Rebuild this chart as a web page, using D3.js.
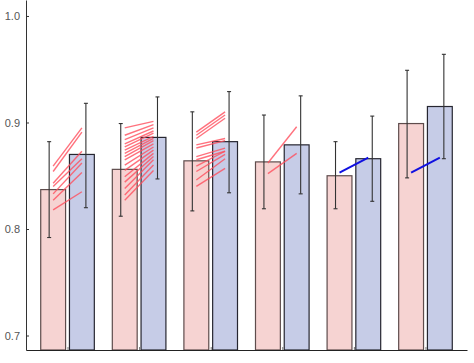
<!DOCTYPE html>
<html>
<head>
<meta charset="utf-8">
<script src="https://cdn.jsdelivr.net/npm/d3@7"></script>
<style>
  body { margin: 0; background: #fff; }
  svg { display: block; font-family: "Liberation Sans", Arial, sans-serif; }
</style>
</head>
<body>
<div id="chart"></div>
<script>
// six conditions, two bars each (pink = before, blue = after)
const groups = ["1", "2", "3", "4", "5", "6"];
const meanA = [0.837, 0.856, 0.864, 0.863, 0.850, 0.899];
const meanB = [0.870, 0.886, 0.882, 0.879, 0.866, 0.915];
const hiA = [0.882, 0.899, 0.910, 0.907, 0.882, 0.949];
const loA = [0.792, 0.812, 0.817, 0.819, 0.819, 0.848];
const hiB = [0.918, 0.924, 0.929, 0.925, 0.906, 0.964];
const loB = [0.820, 0.847, 0.834, 0.833, 0.826, 0.866];
const yTicks = [0.7, 0.8, 0.9, 1.0];

// individual paired lines per group [before, after]
const pairs1 = [[0.859, 0.895], [0.854, 0.891], [0.843, 0.873], [0.840, 0.866], [0.833, 0.862], [0.827, 0.853], [0.818, 0.835]];
const pairs2 = [[0.895, 0.901], [0.888, 0.898], [0.884, 0.895], [0.880, 0.892], [0.877, 0.890], [0.874, 0.887],
  [0.871, 0.885], [0.868, 0.883], [0.865, 0.880], [0.860, 0.877], [0.855, 0.874], [0.849, 0.871],
  [0.844, 0.868], [0.838, 0.865], [0.832, 0.860], [0.827, 0.855]];
const pairs3 = [[0.891, 0.910], [0.888, 0.907], [0.885, 0.904], [0.879, 0.885], [0.876, 0.883], [0.868, 0.876],
  [0.865, 0.873], [0.859, 0.873], [0.854, 0.870], [0.846, 0.866], [0.840, 0.857]];
const pairs4 = [[0.862, 0.896], [0.852, 0.871]];
const pairs5 = [[0.853, 0.867]];
const pairs6 = [[0.853, 0.867]];
const allPairs = [pairs1, pairs2, pairs3, pairs4, pairs5, pairs6];
const pairColor = ["#ff4d5c", "#ff4d5c", "#ff4d5c", "#ff4d5c", "#1010e0", "#1010e0"];

const W = 474, H = 363;
const margin = {top: 0, right: 7, bottom: 13, left: 26};

const svg = d3.select("#chart").append("svg")
  .attr("width", W).attr("height", H);

const x = d3.scalePoint()
  .domain(groups)
  .range([margin.left, W - margin.right])
  .padding(0.58);

const sub = d3.scaleBand()
  .domain(["A", "B"])
  .range([-26.8, 26.8])
  .paddingInner(0.135);

const y = d3.scaleLinear()
  .domain([0.6864, 1.015])
  .range([H - margin.bottom, margin.top]);

const rows = groups.map((g, i) => ({
  g: g,
  A: {m: meanA[i], hi: hiA[i], lo: loA[i]},
  B: {m: meanB[i], hi: hiB[i], lo: loB[i]},
  pairs: allPairs[i],
  color: pairColor[i]
}));

const bw = sub.bandwidth();

// bars
rows.forEach(function(r) {
  svg.append("rect")
    .attr("x", x(r.g) + sub("A"))
    .attr("y", y(r.A.m))
    .attr("width", bw)
    .attr("height", y.range()[0] - y(r.A.m))
    .attr("fill", "#f6d3d2")
    .attr("stroke", "#5e4c4c")
    .attr("stroke-width", 1.2);
  svg.append("rect")
    .attr("x", x(r.g) + sub("B"))
    .attr("y", y(r.B.m))
    .attr("width", bw)
    .attr("height", y.range()[0] - y(r.B.m))
    .attr("fill", "#c6cce7")
    .attr("stroke", "#262630")
    .attr("stroke-width", 1.2);
});

// paired lines, bar centre to bar centre
rows.forEach(function(r) {
  const xa = x(r.g) + sub("A") + bw / 2;
  const xb = x(r.g) + sub("B") + bw / 2;
  svg.selectAll(null)
    .data(r.pairs)
    .enter()
    .append("line")
    .attr("x1", xa).attr("x2", xb)
    .attr("y1", d => y(d[0]))
    .attr("y2", d => y(d[1]))
    .attr("stroke", r.color)
    .attr("stroke-opacity", r.color === "#1010e0" ? 1 : 0.8)
    .attr("stroke-width", r.color === "#1010e0" ? 2 : 1.4);
});

// error bars, a little outside the bar centres
function whisker(cx, e) {
  const gE = svg.append("g").attr("stroke", "#333").attr("stroke-width", 1.1);
  gE.append("line").attr("x1", cx).attr("x2", cx).attr("y1", y(e.hi)).attr("y2", y(e.lo));
  gE.append("line").attr("x1", cx - 2).attr("x2", cx + 2).attr("y1", y(e.hi)).attr("y2", y(e.hi));
  gE.append("line").attr("x1", cx - 2).attr("x2", cx + 2).attr("y1", y(e.lo)).attr("y2", y(e.lo));
}
rows.forEach(function(r) {
  whisker(x(r.g) + sub("A") + bw / 2 - 4, r.A);
  whisker(x(r.g) + sub("B") + bw / 2 + 4, r.B);
});

// axes
const yAxis = svg.append("g")
  .attr("transform", `translate(${margin.left},0)`)
  .call(d3.axisLeft(y).tickValues(yTicks).tickFormat(d3.format(".1f"))
    .tickSize(-3).tickSizeOuter(0).tickPadding(6));
yAxis.select(".domain").attr("stroke", "#333");
yAxis.selectAll(".tick line").attr("stroke", "#333");
yAxis.selectAll(".tick text").attr("fill", "#555").style("font-size", "11px");

const xAxis = svg.append("g")
  .attr("transform", `translate(0,${H - margin.bottom})`)
  .call(d3.axisBottom(x).tickFormat("").tickSize(-3).tickSizeOuter(0));
xAxis.select(".domain").attr("stroke", "#222").attr("stroke-width", 1.2);
xAxis.selectAll(".tick line").attr("stroke", "#777");
</script>
</body>
</html>
